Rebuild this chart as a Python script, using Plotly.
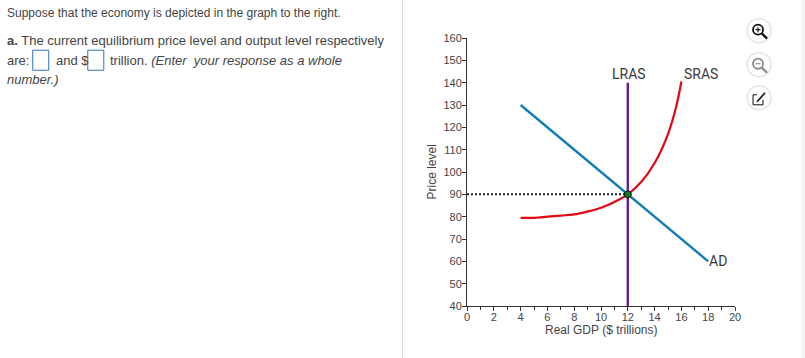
import plotly.graph_objects as go

# Data
ad_x = [4, 18]
ad_y = [130, 60]
sras_x = [4, 5, 6, 7, 8, 9, 10, 11, 12, 13, 14, 15, 15.6, 16]
sras_y = [79.5, 79.5, 80, 80.5, 81, 82.3, 84, 86.6, 90, 95.5, 104, 117, 129, 140.5]
lras_x = [12, 12]
lras_y = [40, 140]
dot_x = [0, 12]
dot_y = [90, 90]
eq_x = [12]
eq_y = [90]
x_ticks = list(range(0, 21, 2))
y_ticks = list(range(40, 161, 10))
curve_labels = [("LRAS", 12.1, 144), ("SRAS", 17.45, 144), ("AD", 18.75, 60)]

W, H = 805, 358
L, R, T, B = 467.3, 735.0, 38.3, 306.0
FONT = "Liberation Sans"
GREY = "#444444"


def px(x):
    return (x - L) / (R - L)


def py(y):
    return (B - y) / (B - T)


fig = go.Figure()
fig.add_trace(go.Scatter(x=dot_x, y=dot_y, mode="lines", line=dict(color="#222222", width=2, dash="2px 2px"), cliponaxis=False))
fig.add_trace(go.Scatter(x=ad_x, y=ad_y, mode="lines", line=dict(color="#0F7FB5", width=2.4), cliponaxis=False))
fig.add_trace(go.Scatter(x=sras_x, y=sras_y, mode="lines", line=dict(color="#E30613", width=2.2, shape="spline", smoothing=1), cliponaxis=False))
fig.add_trace(go.Scatter(x=lras_x, y=lras_y, mode="lines", line=dict(color="#6A1B8A", width=2.4), cliponaxis=False))
fig.add_trace(go.Scatter(x=eq_x, y=eq_y, mode="markers", marker=dict(color="#0A7D1E", size=7, line=dict(color="#111111", width=1)), cliponaxis=False))

annotations = []
for name, x, y in curve_labels:
    annotations.append(dict(x=x, y=y, xref="x", yref="y", text=name, showarrow=False,
                            font=dict(family="Roboto", size=14, color="#3A3A3A")))


# Question text
def text(x, y, s, size=13):
    annotations.append(dict(x=px(x), y=py(y), xref="paper", yref="paper", text=s, showarrow=False,
                            xanchor="left", yanchor="middle", align="left",
                            font=dict(family=FONT, size=size, color="#444444")))


text(6, 13, "Suppose that the economy is depicted in the graph to the right.", 12)
text(6, 41, "<b>a.</b> The current equilibrium price level and output level respectively")
text(6, 60.5, "are:")
text(54.5, 60.5, "and $")
text(109, 60.5, "trillion. <i>(Enter  your response as a whole</i>")
text(6, 80, "<i>number.)</i>")

annotations.append(dict(x=px(601), y=py(330), xref="paper", yref="paper", text="Real GDP ($ trillions)", showarrow=False,
                        xanchor="center", yanchor="middle", font=dict(family=FONT, size=12, color=GREY)))
annotations.append(dict(x=px(432), y=py(172), xref="paper", yref="paper", text="Price level", showarrow=False, textangle=-90,
                        xanchor="center", yanchor="middle", font=dict(family=FONT, size=12, color=GREY)))

shapes = []


def rect(x0, y0, x1, y1, color, fill=None, width=1):
    shapes.append(dict(type="rect", xref="paper", yref="paper", x0=px(x0), x1=px(x1), y0=py(y0), y1=py(y1),
                       line=dict(color=color, width=width), fillcolor=fill, layer="below"))


def seg(x0, y0, x1, y1, color, width=1):
    shapes.append(dict(type="line", xref="paper", yref="paper", x0=px(x0), x1=px(x1), y0=py(y0), y1=py(y1),
                       line=dict(color=color, width=width)))


def circ(cx, cy, r, color, fill=None, width=1):
    shapes.append(dict(type="circle", xref="paper", yref="paper", x0=px(cx - r), x1=px(cx + r), y0=py(cy + r), y1=py(cy - r),
                       line=dict(color=color, width=width), fillcolor=fill))


# Input boxes and panel divider
rect(33.5, 50.5, 49.5, 70.5, "#2E75B6")
rect(88.5, 50.5, 104.5, 70.5, "#2E75B6")
seg(403, 0, 403, 358, "#D5D5D5")
rect(801, 0, 805, 358, "#F7F7F7", "#F7F7F7", 0)

# Toolbar buttons
for cy in (31, 65, 98):
    circ(759, cy, 12, "#E4E4E4", "#FFFFFF", 1.5)
circ(758, 30, 5, "#111111", None, 1.8)
seg(762, 34, 767, 39, "#111111", 2.4)
seg(755.5, 30, 760.5, 30, "#111111", 1.2)
seg(758, 27.5, 758, 32.5, "#111111", 1.2)
circ(758, 64, 5, "#8A8A8A", None, 1.8)
seg(762, 68, 767, 73, "#8A8A8A", 2.4)
seg(755.5, 64, 760.5, 64, "#8A8A8A", 1.2)
seg(753, 95, 753, 105, "#333333", 1.2)
seg(753, 105, 763, 105, "#333333", 1.2)
seg(763, 105, 763, 100, "#333333", 1.2)
seg(753, 95, 757, 95, "#333333", 1.2)
seg(757, 102, 765, 93, "#111111", 1.6)

fig.update_layout(
    width=W, height=H, autosize=False, showlegend=False,
    paper_bgcolor="white", plot_bgcolor="white",
    margin=dict(l=L, r=W - R, t=T, b=H - B, pad=0),
    annotations=annotations, shapes=shapes,
    font=dict(family=FONT, size=11, color=GREY),
    xaxis=dict(range=[0, 20], tickmode="array", tickvals=x_ticks, showgrid=False, zeroline=False,
               showline=True, linecolor="#333333", linewidth=1, ticks="outside", ticklen=4, tickcolor="#333333",
               tickfont=dict(size=11, color=GREY), ticklabelstandoff=-3,
               minor=dict(dtick=1, tick0=0, ticks="outside", ticklen=3, tickcolor="#333333", showgrid=False)),
    yaxis=dict(range=[40, 160], tickmode="array", tickvals=y_ticks, showgrid=False, zeroline=False,
               showline=True, linecolor="#333333", linewidth=1, ticks="outside", ticklen=4, tickcolor="#333333",
               tickfont=dict(size=11, color=GREY), ticklabelstandoff=-2),
)

fig.write_html("out.html", config=dict(displayModeBar=False), post_script="document.body.style.margin='0';window.dispatchEvent(new Event('resize'));")
